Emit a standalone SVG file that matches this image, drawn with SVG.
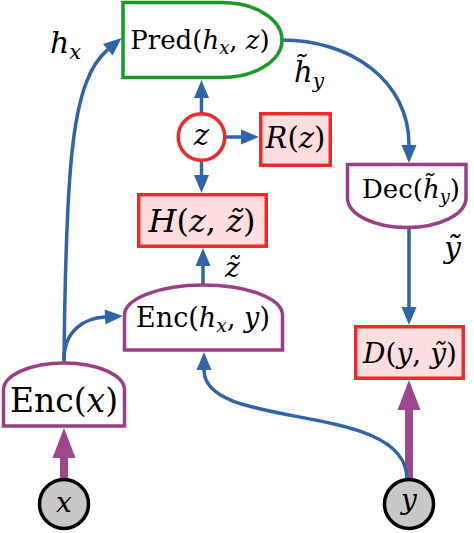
<svg xmlns="http://www.w3.org/2000/svg" width="474" height="533" viewBox="0 0 474 533">
<style>
text{font-family:"DejaVu Serif","Liberation Serif",serif;fill:#000}
.i{font-style:italic}
.blue{fill:none;stroke:#3165a9;stroke-width:3.5}
.purp{fill:none;stroke:#a0468c;stroke-width:8}
.enc{fill:#fff;stroke:#9b3f87;stroke-width:3.5}
.red{fill:#fcdede;stroke:#f02a2a;stroke-width:3.5}
.var{fill:#c8c8c8;stroke:#000;stroke-width:3.5}
</style>
<defs>
<marker id="ab" markerUnits="userSpaceOnUse" markerWidth="18" markerHeight="15" refX="0" refY="7.5" orient="auto" overflow="visible">
<path d="M0,0 L18,7.5 L0,15 Z" fill="#3165a9"/>
</marker>
<marker id="ap" markerUnits="userSpaceOnUse" markerWidth="30" markerHeight="23" refX="0" refY="11.5" orient="auto" overflow="visible">
<path d="M0,0 L30,11.5 L0,23 Z" fill="#a0468c"/>
</marker>
</defs>

<g id="connectors">
<path class="purp" d="M64,480 V458" marker-end="url(#ap)"/>
<path class="purp" d="M409,480 V410" marker-end="url(#ap)"/>
<path class="blue" d="M64,362 C66,160 72,80 107.8,49.7" marker-end="url(#ab)"/>
<path class="blue" d="M64,360 C64,330 85,318 105,317" marker-end="url(#ab)"/>
<path class="blue" d="M201.5,113 V98" marker-end="url(#ab)"/>
<path class="blue" d="M201.5,161 V175" marker-end="url(#ab)"/>
<path class="blue" d="M226,137 H241" marker-end="url(#ab)"/>
<path class="blue" d="M203,286 V266" marker-end="url(#ab)"/>
<path class="blue" d="M282,40 C350,40 409,80 409,145" marker-end="url(#ab)"/>
<path class="blue" d="M409,229 V307" marker-end="url(#ab)"/>
<path class="blue" d="M407,479 C407,400 204,432 204,370" marker-end="url(#ab)"/>
</g>

<g id="pred">
<path d="M123,2.5 H222 A60,37.5 0 0 1 222,77.5 H123 Z" fill="#fff" stroke="#1a9b26" stroke-width="3.5"/>
<text x="200" y="49" text-anchor="middle" font-size="26">Pred(<tspan class="i">h</tspan><tspan class="i" font-size="18" dy="5">x</tspan><tspan dy="-5">, </tspan><tspan class="i">z</tspan>)</text>
</g>

<g id="z">
<circle cx="201.5" cy="137" r="23.25" fill="#fff" stroke="#f02a2a" stroke-width="3.5"/>
<text x="201.5" y="145" text-anchor="middle" font-size="29" class="i">z</text>
</g>

<g id="rz">
<rect class="red" x="260.75" y="113.75" width="69.5" height="51.5"/>
<text x="295.5" y="148" text-anchor="middle" font-size="29"><tspan class="i">R</tspan>(<tspan class="i">z</tspan>)</text>
</g>

<g id="h">
<rect class="red" x="138.75" y="194.75" width="127.5" height="51.5"/>
<text x="202" y="232" text-anchor="middle" font-size="32"><tspan class="i">H</tspan>(<tspan class="i">z</tspan>, <tspan class="i">z̃</tspan>)</text>
</g>

<g id="enchy">
<path class="enc" d="M124.5,350 V315 A79,30 0 0 1 282.5,315 V350 Z"/>
<text x="203" y="327" text-anchor="middle" font-size="27">Enc(<tspan class="i">h</tspan><tspan class="i" font-size="19" dy="5">x</tspan><tspan dy="-5">, </tspan><tspan class="i">y</tspan>)</text>
</g>

<g id="encx">
<path class="enc" d="M3.5,426 V390 A60.5,27 0 0 1 124.5,390 V426 Z"/>
<text x="64" y="412" text-anchor="middle" font-size="33">Enc(<tspan class="i">x</tspan>)</text>
</g>

<g id="dec">
<path class="enc" d="M347.5,164.5 H466 V198 A59.25,29.5 0 0 1 347.5,198 Z"/>
<text x="411" y="198" text-anchor="middle" font-size="26">Dec(<tspan class="i">h̃</tspan><tspan class="i" font-size="18" dy="5">y</tspan><tspan dy="-5">)</tspan></text>
</g>

<g id="d">
<rect class="red" x="355.75" y="326.75" width="107.5" height="51.5"/>
<text x="410" y="363" text-anchor="middle" font-size="28"><tspan class="i">D</tspan>(<tspan class="i">y</tspan>, <tspan class="i">ỹ</tspan>)</text>
</g>

<g id="x">
<circle class="var" cx="64" cy="504" r="24.5"/>
<text x="64" y="512" text-anchor="middle" font-size="28" class="i">x</text>
</g>

<g id="y">
<circle class="var" cx="409" cy="504" r="24.5"/>
<text x="409" y="509" text-anchor="middle" font-size="28" class="i">y</text>
</g>

<g id="labels">
<text x="50" y="53" font-size="30" class="i">h<tspan font-size="21" dy="6">x</tspan></text>
<text x="294" y="82" font-size="29" class="i">h̃<tspan font-size="20" dy="6">y</tspan></text>
<text x="225" y="277" font-size="28" class="i">z̃</text>
<text x="444" y="258" font-size="30" class="i">ỹ</text>
</g>
</svg>
